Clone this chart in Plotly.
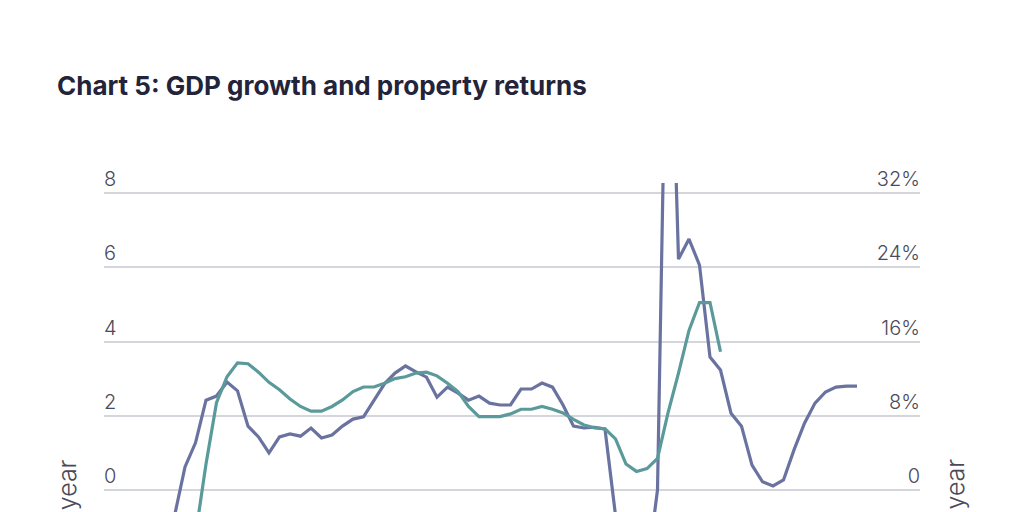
import plotly.graph_objects as go

# Quarterly categories, 2009 Q4 .. 2026 Q1
quarters = [f"{y} Q{q}" for y in range(2009, 2027) for q in range(1, 5)]
quarters = quarters[3:3 + 66]

# GDP growth, % change on year (left axis)
gdp_growth = [
    -0.7, 0.62, 1.27, 2.42, 2.53, 2.91, 2.67, 1.72, 1.43, 1.0,
    1.43, 1.51, 1.45, 1.67, 1.40, 1.48, 1.72, 1.91, 1.97, 2.42,
    2.86, 3.15, 3.34, 3.18, 3.04, 2.50, 2.77, 2.61, 2.42, 2.53,
    2.34, 2.29, 2.29, 2.72, 2.72, 2.88, 2.77, 2.29, 1.72, 1.67,
    1.69, 1.64, -0.7, -3.0, -3.0, -2.2, 0.0, 15.8, 6.22, 6.76,
    6.06, 3.58, 3.23, 2.07, 1.72, 0.67, 0.22, 0.11, 0.27, 1.08,
    1.80, 2.34, 2.64, 2.77, 2.80, 2.80,
]

# Property returns, % year (right axis)
property_returns = [
    None, None, -4.9, 2.8, 9.4, 12.2, 13.7, 13.6, 12.7, 11.6,
    10.8, 9.8, 9.0, 8.5, 8.5, 9.0, 9.7, 10.6, 11.1, 11.1,
    11.5, 12.0, 12.2, 12.6, 12.7, 12.3, 11.5, 10.6, 9.0, 7.9,
    7.9, 7.9, 8.2, 8.7, 8.7, 9.0, 8.7, 8.3, 7.6, 7.0,
    6.7, 6.6, 5.5, 2.8, 2.0, 2.3, 3.4, 8.3, 12.6, 17.2,
    20.2, 20.2, 14.9,
]

left_ticks = [0, 2, 4, 6, 8]
right_ticks = [0, 8, 16, 24, 32]
right_ticktext = ["0", "8%", "16%", "24%", "32%"]

BLUE = "#6a72a0"
TEAL = "#5b9a9b"
GRID = "#d5d5dc"
TXT = "#4a4a5a"
FONT = "Inter"

tickfont = dict(family=FONT, size=20, color=TXT, weight=300)

fig = go.Figure()
fig.add_trace(go.Scatter(x=quarters, y=gdp_growth, mode="lines",
                         line=dict(color=BLUE, width=3.2), name="GDP growth",
                         yaxis="y"))
fig.add_trace(go.Scatter(x=quarters[:len(property_returns)], y=property_returns,
                         mode="lines", line=dict(color=TEAL, width=3.2),
                         name="Property returns", yaxis="y2", connectgaps=False))

ylo, yhi = -0.593, 8.27
fig.update_layout(
    width=1024, height=512,
    margin=dict(l=104, r=104, t=183, b=0, pad=0),
    paper_bgcolor="white", plot_bgcolor="white",
    showlegend=False,
    font=dict(family=FONT, color=TXT, size=20),
    title=dict(text="Chart 5: GDP growth and property returns",
               x=57 / 1024, xref="container", xanchor="left",
               y=1 - 86 / 512, yref="container", yanchor="middle",
               font=dict(family=FONT, size=26, color="#23233a", weight=700)),
    xaxis=dict(type="category", range=[-6.714, 71.0], showgrid=False,
               showticklabels=False, ticks="", zeroline=False, showline=False),
    yaxis=dict(range=[ylo, yhi], tickvals=left_ticks,
               ticktext=[str(v) for v in left_ticks],
               ticklabelposition="inside top", ticklabeloverflow="allow",
               ticklabelstandoff=-3,
               showgrid=True, gridcolor=GRID,
               gridwidth=2, zeroline=False, showline=False, ticks="",
               tickfont=tickfont),
    yaxis2=dict(range=[ylo * 4, yhi * 4], tickvals=right_ticks,
                ticktext=right_ticktext, overlaying="y", side="right",
                ticklabelposition="inside top", ticklabeloverflow="allow",
                ticklabelstandoff=-3,
                showgrid=False,
                zeroline=False, showline=False, ticks="",
                tickfont=tickfont),
    annotations=[
        dict(text="% change on year", textangle=-90, xref="paper", yref="paper",
             x=(67 - 104) / 816, y=(512 - 457) / 329, xanchor="center",
             yanchor="top", showarrow=False,
             font=dict(family=FONT, size=25, color=TXT, weight=300)),
        dict(text="Total return, % a year", textangle=-90, xref="paper",
             yref="paper", x=(955 - 104) / 816, y=(512 - 457) / 329,
             xanchor="center", yanchor="top", showarrow=False,
             font=dict(family=FONT, size=25, color=TXT, weight=300)),
    ],
)

fig.write_html("out.html")
